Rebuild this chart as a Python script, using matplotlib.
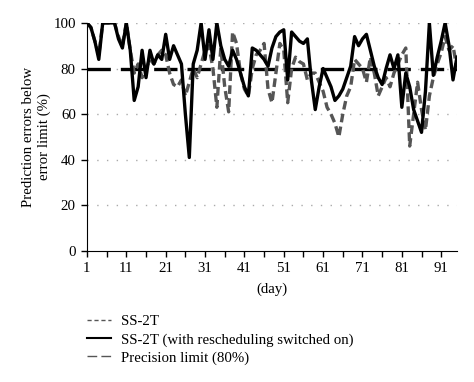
import numpy as np
import matplotlib.pyplot as plt
from matplotlib.lines import Line2D

plt.rcParams['font.family'] = ['Liberation Serif', 'DejaVu Serif']

days = np.arange(1, 96)

ss2t = [100, 98, 92, 86, 100, 100, 100, 100, 94, 90,
        100, 88, 78, 82, 76, 80, 84, 82, 86, 88,
        86, 78, 73, 72, 75, 68, 74, 80, 76, 82,
        88, 90, 80, 63, 89, 72, 61, 96, 91, 78,
        71, 68, 80, 86, 88, 91, 71, 65, 78, 91,
        88, 65, 80, 85, 83, 82, 75, 78, 78, 74,
        70, 63, 60, 56, 50, 60, 68, 72, 84, 82,
        80, 74, 85, 78, 68, 72, 76, 72, 78, 82,
        86, 89, 46, 60, 74, 62, 53, 68, 76, 82,
        87, 94, 88, 90, 80]

ss2t_resched = [100, 98, 92, 84, 100, 100, 100, 100, 93, 89,
                100, 88, 66, 72, 88, 76, 88, 82, 86, 84,
                95, 84, 90, 86, 82, 60, 41, 82, 88, 100,
                84, 97, 84, 100, 90, 84, 81, 88, 84, 78,
                72, 68, 89, 88, 86, 84, 81, 89, 94, 96,
                97, 75, 96, 94, 92, 91, 93, 75, 62, 72,
                80, 76, 72, 66, 68, 71, 76, 81, 94, 90,
                93, 95, 88, 81, 76, 73, 80, 86, 80, 86,
                63, 78, 72, 62, 57, 52, 70, 100, 77, 85,
                92, 100, 90, 75, 85]

precision_limit = 80
labels = ["SS-2T", "SS-2T (with rescheduling switched on)", "Precision limit (80%)"]

fig = plt.figure(figsize=(4.74, 3.82), dpi=100)
ax = fig.add_axes([0.1835, 0.343, 0.7805, 0.597])

ax.axhline(precision_limit, color="black", lw=2.4, dashes=(7, 3), zorder=2)
ax.plot(days, ss2t, color="#555555", lw=2.4, dashes=(2.6, 1.3), zorder=3)
ax.plot(days, ss2t_resched, color="black", lw=2.4, zorder=4)

ax.set_xlim(1, 95)
ax.set_ylim(0, 100)
ax.set_xticks(np.arange(1, 92, 10))
ax.set_xticks(np.arange(6, 96, 10), minor=True)
ax.set_yticks(np.arange(0, 101, 20))
ax.tick_params(axis="both", direction="out", length=4, width=1, labelsize=10.7, pad=4)
ax.tick_params(axis="x", which="minor", direction="out", length=4, width=1)
for y in range(20, 101, 20):
    ax.axhline(y, color="#aaaaaa", lw=1, linestyle=(0, (1, 6)), zorder=1)

for side in ["top", "right"]:
    ax.spines[side].set_visible(False)
ax.set_xlabel("(day)", fontsize=10.7, labelpad=5)
ax.set_ylabel("Prediction errors below\nerror limit (%)", fontsize=10.7, labelpad=2)

handles = [
    Line2D([], [], color="#555555", lw=1, dashes=(3, 2)),
    Line2D([], [], color="black", lw=1.5),
    Line2D([], [], color="#555555", lw=1, dashes=(7, 3)),
]
fig.legend(handles, labels, loc="upper left", bbox_to_anchor=(0.183, 0.176),
           frameon=False, fontsize=10.7, handlelength=1.6, handletextpad=0.7,
           labelspacing=0.32, borderpad=0, borderaxespad=0)

fig.savefig("out.png", dpi=100)
